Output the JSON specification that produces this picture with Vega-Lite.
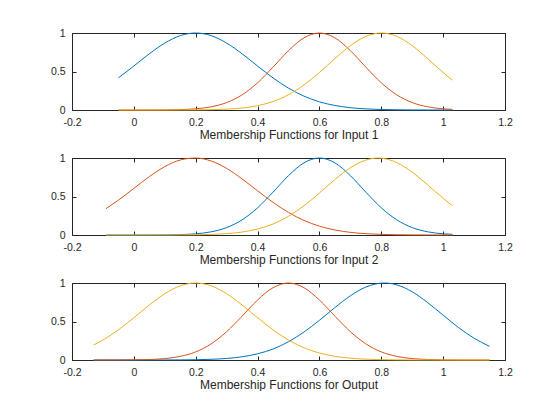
{
  "$schema": "https://vega.github.io/schema/vega-lite/v6.json",
  "background": "white",
  "padding": {"left": 50, "top": 28, "right": 0, "bottom": 0},
  "bounds": "flush",
  "spacing": 48,
  "datasets": {
    "in1": [
      {"mf": "mf1", "x": -0.05, "y": 0.417}, {"mf": "mf1", "x": 0, "y": 0.571}, {"mf": "mf1", "x": 0.05, "y": 0.730},
      {"mf": "mf1", "x": 0.1, "y": 0.869}, {"mf": "mf1", "x": 0.15, "y": 0.966}, {"mf": "mf1", "x": 0.2, "y": 1},
      {"mf": "mf1", "x": 0.25, "y": 0.966}, {"mf": "mf1", "x": 0.3, "y": 0.869}, {"mf": "mf1", "x": 0.35, "y": 0.730},
      {"mf": "mf1", "x": 0.4, "y": 0.571}, {"mf": "mf1", "x": 0.45, "y": 0.417}, {"mf": "mf1", "x": 0.5, "y": 0.284},
      {"mf": "mf1", "x": 0.55, "y": 0.180}, {"mf": "mf1", "x": 0.6, "y": 0.106}, {"mf": "mf1", "x": 0.65, "y": 0.059},
      {"mf": "mf1", "x": 0.7, "y": 0.030}, {"mf": "mf1", "x": 0.75, "y": 0.0145}, {"mf": "mf1", "x": 0.8, "y": 0.0065},
      {"mf": "mf1", "x": 0.85, "y": 0.0027}, {"mf": "mf1", "x": 0.9, "y": 0.001}, {"mf": "mf1", "x": 0.95, "y": 0.0004},
      {"mf": "mf1", "x": 1, "y": 0.0001}, {"mf": "mf1", "x": 1.03, "y": 0.0001},
      {"mf": "mf2", "x": -0.05, "y": 0}, {"mf": "mf2", "x": 0, "y": 0.0001}, {"mf": "mf2", "x": 0.05, "y": 0.0004},
      {"mf": "mf2", "x": 0.1, "y": 0.0015}, {"mf": "mf2", "x": 0.15, "y": 0.0052}, {"mf": "mf2", "x": 0.2, "y": 0.0156},
      {"mf": "mf2", "x": 0.25, "y": 0.0414}, {"mf": "mf2", "x": 0.3, "y": 0.0963}, {"mf": "mf2", "x": 0.35, "y": 0.197},
      {"mf": "mf2", "x": 0.4, "y": 0.353}, {"mf": "mf2", "x": 0.45, "y": 0.557}, {"mf": "mf2", "x": 0.5, "y": 0.771},
      {"mf": "mf2", "x": 0.55, "y": 0.937}, {"mf": "mf2", "x": 0.6, "y": 1}, {"mf": "mf2", "x": 0.65, "y": 0.937},
      {"mf": "mf2", "x": 0.7, "y": 0.771}, {"mf": "mf2", "x": 0.75, "y": 0.557}, {"mf": "mf2", "x": 0.8, "y": 0.353},
      {"mf": "mf2", "x": 0.85, "y": 0.197}, {"mf": "mf2", "x": 0.9, "y": 0.0963}, {"mf": "mf2", "x": 0.95, "y": 0.0414},
      {"mf": "mf2", "x": 1, "y": 0.0156}, {"mf": "mf2", "x": 1.03, "y": 0.0082},
      {"mf": "mf3", "x": -0.05, "y": 0}, {"mf": "mf3", "x": 0, "y": 0}, {"mf": "mf3", "x": 0.05, "y": 0},
      {"mf": "mf3", "x": 0.1, "y": 0.0002}, {"mf": "mf3", "x": 0.15, "y": 0.0005}, {"mf": "mf3", "x": 0.2, "y": 0.0015},
      {"mf": "mf3", "x": 0.25, "y": 0.0043}, {"mf": "mf3", "x": 0.3, "y": 0.0111}, {"mf": "mf3", "x": 0.35, "y": 0.0261},
      {"mf": "mf3", "x": 0.4, "y": 0.0561}, {"mf": "mf3", "x": 0.45, "y": 0.110}, {"mf": "mf3", "x": 0.5, "y": 0.198},
      {"mf": "mf3", "x": 0.55, "y": 0.325}, {"mf": "mf3", "x": 0.6, "y": 0.487}, {"mf": "mf3", "x": 0.65, "y": 0.667},
      {"mf": "mf3", "x": 0.7, "y": 0.835}, {"mf": "mf3", "x": 0.75, "y": 0.956}, {"mf": "mf3", "x": 0.8, "y": 1},
      {"mf": "mf3", "x": 0.85, "y": 0.956}, {"mf": "mf3", "x": 0.9, "y": 0.835}, {"mf": "mf3", "x": 0.95, "y": 0.667},
      {"mf": "mf3", "x": 1, "y": 0.487}, {"mf": "mf3", "x": 1.03, "y": 0.386}
    ],
    "in2": [
      {"mf": "mf1", "x": -0.09, "y": 0}, {"mf": "mf1", "x": -0.05, "y": 0}, {"mf": "mf1", "x": 0, "y": 0.0001},
      {"mf": "mf1", "x": 0.05, "y": 0.0004}, {"mf": "mf1", "x": 0.1, "y": 0.0015}, {"mf": "mf1", "x": 0.15, "y": 0.0052},
      {"mf": "mf1", "x": 0.2, "y": 0.0156}, {"mf": "mf1", "x": 0.25, "y": 0.0414}, {"mf": "mf1", "x": 0.3, "y": 0.0963},
      {"mf": "mf1", "x": 0.35, "y": 0.197}, {"mf": "mf1", "x": 0.4, "y": 0.353}, {"mf": "mf1", "x": 0.45, "y": 0.557},
      {"mf": "mf1", "x": 0.5, "y": 0.771}, {"mf": "mf1", "x": 0.55, "y": 0.937}, {"mf": "mf1", "x": 0.6, "y": 1},
      {"mf": "mf1", "x": 0.65, "y": 0.937}, {"mf": "mf1", "x": 0.7, "y": 0.771}, {"mf": "mf1", "x": 0.75, "y": 0.557},
      {"mf": "mf1", "x": 0.8, "y": 0.353}, {"mf": "mf1", "x": 0.85, "y": 0.197}, {"mf": "mf1", "x": 0.9, "y": 0.0963},
      {"mf": "mf1", "x": 0.95, "y": 0.0414}, {"mf": "mf1", "x": 1, "y": 0.0156}, {"mf": "mf1", "x": 1.03, "y": 0.0082},
      {"mf": "mf2", "x": -0.09, "y": 0.342}, {"mf": "mf2", "x": -0.05, "y": 0.453}, {"mf": "mf2", "x": 0, "y": 0.605},
      {"mf": "mf2", "x": 0.05, "y": 0.758}, {"mf": "mf2", "x": 0.1, "y": 0.888}, {"mf": "mf2", "x": 0.15, "y": 0.974},
      {"mf": "mf2", "x": 0.2, "y": 1}, {"mf": "mf2", "x": 0.25, "y": 0.961}, {"mf": "mf2", "x": 0.3, "y": 0.865},
      {"mf": "mf2", "x": 0.35, "y": 0.728}, {"mf": "mf2", "x": 0.4, "y": 0.574}, {"mf": "mf2", "x": 0.45, "y": 0.424},
      {"mf": "mf2", "x": 0.5, "y": 0.293}, {"mf": "mf2", "x": 0.55, "y": 0.189}, {"mf": "mf2", "x": 0.6, "y": 0.115},
      {"mf": "mf2", "x": 0.65, "y": 0.065}, {"mf": "mf2", "x": 0.7, "y": 0.0345}, {"mf": "mf2", "x": 0.75, "y": 0.0172},
      {"mf": "mf2", "x": 0.8, "y": 0.008}, {"mf": "mf2", "x": 0.85, "y": 0.0035}, {"mf": "mf2", "x": 0.9, "y": 0.0014},
      {"mf": "mf2", "x": 0.95, "y": 0.0005}, {"mf": "mf2", "x": 1, "y": 0.0002}, {"mf": "mf2", "x": 1.03, "y": 0.0001},
      {"mf": "mf3", "x": -0.09, "y": 0}, {"mf": "mf3", "x": -0.05, "y": 0}, {"mf": "mf3", "x": 0, "y": 0},
      {"mf": "mf3", "x": 0.05, "y": 0.0001}, {"mf": "mf3", "x": 0.1, "y": 0.0003}, {"mf": "mf3", "x": 0.15, "y": 0.001},
      {"mf": "mf3", "x": 0.2, "y": 0.0029}, {"mf": "mf3", "x": 0.25, "y": 0.0075}, {"mf": "mf3", "x": 0.3, "y": 0.0177},
      {"mf": "mf3", "x": 0.35, "y": 0.0387}, {"mf": "mf3", "x": 0.4, "y": 0.0777}, {"mf": "mf3", "x": 0.45, "y": 0.143},
      {"mf": "mf3", "x": 0.5, "y": 0.243}, {"mf": "mf3", "x": 0.55, "y": 0.380}, {"mf": "mf3", "x": 0.6, "y": 0.545},
      {"mf": "mf3", "x": 0.65, "y": 0.720}, {"mf": "mf3", "x": 0.7, "y": 0.873}, {"mf": "mf3", "x": 0.75, "y": 0.973},
      {"mf": "mf3", "x": 0.79, "y": 1}, {"mf": "mf3", "x": 0.85, "y": 0.941}, {"mf": "mf3", "x": 0.9, "y": 0.816},
      {"mf": "mf3", "x": 0.95, "y": 0.650}, {"mf": "mf3", "x": 1, "y": 0.477}, {"mf": "mf3", "x": 1.03, "y": 0.380}
    ],
    "out": [
      {"mf": "mf1", "x": -0.13, "y": 0}, {"mf": "mf1", "x": -0.1, "y": 0}, {"mf": "mf1", "x": -0.05, "y": 0},
      {"mf": "mf1", "x": 0, "y": 0.0001}, {"mf": "mf1", "x": 0.05, "y": 0.0002}, {"mf": "mf1", "x": 0.1, "y": 0.0005},
      {"mf": "mf1", "x": 0.15, "y": 0.0015}, {"mf": "mf1", "x": 0.2, "y": 0.0038}, {"mf": "mf1", "x": 0.25, "y": 0.0091},
      {"mf": "mf1", "x": 0.3, "y": 0.0202}, {"mf": "mf1", "x": 0.35, "y": 0.0418}, {"mf": "mf1", "x": 0.4, "y": 0.0804},
      {"mf": "mf1", "x": 0.45, "y": 0.143}, {"mf": "mf1", "x": 0.5, "y": 0.237}, {"mf": "mf1", "x": 0.55, "y": 0.363},
      {"mf": "mf1", "x": 0.6, "y": 0.516}, {"mf": "mf1", "x": 0.65, "y": 0.681}, {"mf": "mf1", "x": 0.7, "y": 0.834},
      {"mf": "mf1", "x": 0.75, "y": 0.947}, {"mf": "mf1", "x": 0.81, "y": 1}, {"mf": "mf1", "x": 0.85, "y": 0.976},
      {"mf": "mf1", "x": 0.9, "y": 0.886}, {"mf": "mf1", "x": 0.95, "y": 0.745}, {"mf": "mf1", "x": 1, "y": 0.582},
      {"mf": "mf1", "x": 1.05, "y": 0.421}, {"mf": "mf1", "x": 1.1, "y": 0.283}, {"mf": "mf1", "x": 1.15, "y": 0.177},
      {"mf": "mf2", "x": -0.13, "y": 0.0001}, {"mf": "mf2", "x": -0.1, "y": 0.0001}, {"mf": "mf2", "x": -0.05, "y": 0.0005},
      {"mf": "mf2", "x": 0, "y": 0.0019}, {"mf": "mf2", "x": 0.05, "y": 0.0063}, {"mf": "mf2", "x": 0.1, "y": 0.0183},
      {"mf": "mf2", "x": 0.15, "y": 0.0468}, {"mf": "mf2", "x": 0.2, "y": 0.105}, {"mf": "mf2", "x": 0.25, "y": 0.210},
      {"mf": "mf2", "x": 0.3, "y": 0.368}, {"mf": "mf2", "x": 0.35, "y": 0.570}, {"mf": "mf2", "x": 0.4, "y": 0.779},
      {"mf": "mf2", "x": 0.45, "y": 0.939}, {"mf": "mf2", "x": 0.5, "y": 1}, {"mf": "mf2", "x": 0.55, "y": 0.939},
      {"mf": "mf2", "x": 0.6, "y": 0.779}, {"mf": "mf2", "x": 0.65, "y": 0.570}, {"mf": "mf2", "x": 0.7, "y": 0.368},
      {"mf": "mf2", "x": 0.75, "y": 0.210}, {"mf": "mf2", "x": 0.8, "y": 0.105}, {"mf": "mf2", "x": 0.85, "y": 0.0468},
      {"mf": "mf2", "x": 0.9, "y": 0.0183}, {"mf": "mf2", "x": 0.95, "y": 0.0063}, {"mf": "mf2", "x": 1, "y": 0.0019},
      {"mf": "mf2", "x": 1.05, "y": 0.0005}, {"mf": "mf2", "x": 1.1, "y": 0.0001}, {"mf": "mf2", "x": 1.15, "y": 0},
      {"mf": "mf3", "x": -0.13, "y": 0.195}, {"mf": "mf3", "x": -0.1, "y": 0.259}, {"mf": "mf3", "x": -0.05, "y": 0.392},
      {"mf": "mf3", "x": 0, "y": 0.549}, {"mf": "mf3", "x": 0.05, "y": 0.714}, {"mf": "mf3", "x": 0.1, "y": 0.861},
      {"mf": "mf3", "x": 0.15, "y": 0.963}, {"mf": "mf3", "x": 0.2, "y": 1}, {"mf": "mf3", "x": 0.25, "y": 0.963},
      {"mf": "mf3", "x": 0.3, "y": 0.861}, {"mf": "mf3", "x": 0.35, "y": 0.714}, {"mf": "mf3", "x": 0.4, "y": 0.549},
      {"mf": "mf3", "x": 0.45, "y": 0.392}, {"mf": "mf3", "x": 0.5, "y": 0.259}, {"mf": "mf3", "x": 0.55, "y": 0.159},
      {"mf": "mf3", "x": 0.6, "y": 0.0907}, {"mf": "mf3", "x": 0.65, "y": 0.0479}, {"mf": "mf3", "x": 0.7, "y": 0.0235},
      {"mf": "mf3", "x": 0.75, "y": 0.0107}, {"mf": "mf3", "x": 0.8, "y": 0.0045}, {"mf": "mf3", "x": 0.85, "y": 0.0018},
      {"mf": "mf3", "x": 0.9, "y": 0.0006}, {"mf": "mf3", "x": 0.95, "y": 0.0002}, {"mf": "mf3", "x": 1, "y": 0.0001},
      {"mf": "mf3", "x": 1.05, "y": 0}, {"mf": "mf3", "x": 1.1, "y": 0}, {"mf": "mf3", "x": 1.15, "y": 0}
    ]
  },
  "vconcat": [
    {
      "data": {"name": "in1"},
      "width": 433,
      "height": 77,
      "layer": [
        {
          "mark": {"type": "line", "strokeWidth": 1, "interpolate": "monotone"},
          "encoding": {
            "x": {"field": "x", "type": "quantitative", "scale": {"domain": [-0.2, 1.2], "nice": false, "zero": false},
              "axis": {"title": "Membership Functions for Input 1", "values": [-0.2, 0, 0.2, 0.4, 0.6, 0.8, 1, 1.2], "labelExpr": "'' + datum.value"}},
            "y": {"field": "y", "type": "quantitative", "scale": {"domain": [0, 1], "nice": false},
              "axis": {"title": null, "values": [0, 0.5, 1], "labelExpr": "'' + datum.value"}},
            "color": {"field": "mf", "type": "nominal", "legend": null,
              "scale": {"domain": ["mf1", "mf2", "mf3"], "range": ["#0072BD", "#D95319", "#EDB120"]}}
          }
        },
        {
          "mark": {"type": "line", "opacity": 0},
          "encoding": {
            "x": {"field": "x", "type": "quantitative", "scale": {"domain": [-0.2, 1.2], "nice": false, "zero": false},
              "axis": {"orient": "top", "title": null, "labels": false, "values": [-0.2, 0, 0.2, 0.4, 0.6, 0.8, 1, 1.2]}},
            "y": {"field": "y", "type": "quantitative", "scale": {"domain": [0, 1], "nice": false},
              "axis": {"orient": "right", "title": null, "labels": false, "values": [0, 0.5, 1]}}
          }
        }
      ],
      "resolve": {"axis": {"x": "independent", "y": "independent"}}
    },
    {
      "data": {"name": "in2"},
      "width": 433,
      "height": 77,
      "layer": [
        {
          "mark": {"type": "line", "strokeWidth": 1, "interpolate": "monotone"},
          "encoding": {
            "x": {"field": "x", "type": "quantitative", "scale": {"domain": [-0.2, 1.2], "nice": false, "zero": false},
              "axis": {"title": "Membership Functions for Input 2", "values": [-0.2, 0, 0.2, 0.4, 0.6, 0.8, 1, 1.2], "labelExpr": "'' + datum.value"}},
            "y": {"field": "y", "type": "quantitative", "scale": {"domain": [0, 1], "nice": false},
              "axis": {"title": null, "values": [0, 0.5, 1], "labelExpr": "'' + datum.value"}},
            "color": {"field": "mf", "type": "nominal", "legend": null,
              "scale": {"domain": ["mf1", "mf2", "mf3"], "range": ["#0072BD", "#D95319", "#EDB120"]}}
          }
        },
        {
          "mark": {"type": "line", "opacity": 0},
          "encoding": {
            "x": {"field": "x", "type": "quantitative", "scale": {"domain": [-0.2, 1.2], "nice": false, "zero": false},
              "axis": {"orient": "top", "title": null, "labels": false, "values": [-0.2, 0, 0.2, 0.4, 0.6, 0.8, 1, 1.2]}},
            "y": {"field": "y", "type": "quantitative", "scale": {"domain": [0, 1], "nice": false},
              "axis": {"orient": "right", "title": null, "labels": false, "values": [0, 0.5, 1]}}
          }
        }
      ],
      "resolve": {"axis": {"x": "independent", "y": "independent"}}
    },
    {
      "data": {"name": "out"},
      "width": 433,
      "height": 77,
      "layer": [
        {
          "mark": {"type": "line", "strokeWidth": 1, "interpolate": "monotone"},
          "encoding": {
            "x": {"field": "x", "type": "quantitative", "scale": {"domain": [-0.2, 1.2], "nice": false, "zero": false},
              "axis": {"title": "Membership Functions for Output", "values": [-0.2, 0, 0.2, 0.4, 0.6, 0.8, 1, 1.2], "labelExpr": "'' + datum.value"}},
            "y": {"field": "y", "type": "quantitative", "scale": {"domain": [0, 1], "nice": false},
              "axis": {"title": null, "values": [0, 0.5, 1], "labelExpr": "'' + datum.value"}},
            "color": {"field": "mf", "type": "nominal", "legend": null,
              "scale": {"domain": ["mf1", "mf2", "mf3"], "range": ["#0072BD", "#D95319", "#EDB120"]}}
          }
        },
        {
          "mark": {"type": "line", "opacity": 0},
          "encoding": {
            "x": {"field": "x", "type": "quantitative", "scale": {"domain": [-0.2, 1.2], "nice": false, "zero": false},
              "axis": {"orient": "top", "title": null, "labels": false, "values": [-0.2, 0, 0.2, 0.4, 0.6, 0.8, 1, 1.2]}},
            "y": {"field": "y", "type": "quantitative", "scale": {"domain": [0, 1], "nice": false},
              "axis": {"orient": "right", "title": null, "labels": false, "values": [0, 0.5, 1]}}
          }
        }
      ],
      "resolve": {"axis": {"x": "independent", "y": "independent"}}
    }
  ],
  "config": {
    "view": {"stroke": null},
    "axis": {
      "grid": false,
      "domainColor": "#262626",
      "domainWidth": 1,
      "tickColor": "#262626",
      "tickWidth": 1,
      "tickSize": -4,
      "labelColor": "#262626",
      "labelFont": "Liberation Sans",
      "labelFontSize": 10.5,
      "labelFlush": false,
      "labelOverlap": false,
      "titleColor": "#262626",
      "titleFont": "Liberation Sans",
      "titleFontSize": 12,
      "titleFontWeight": "normal"
    },
    "axisX": {"labelPadding": 11, "titlePadding": 2},
    "axisY": {"labelPadding": 11}
  }
}
